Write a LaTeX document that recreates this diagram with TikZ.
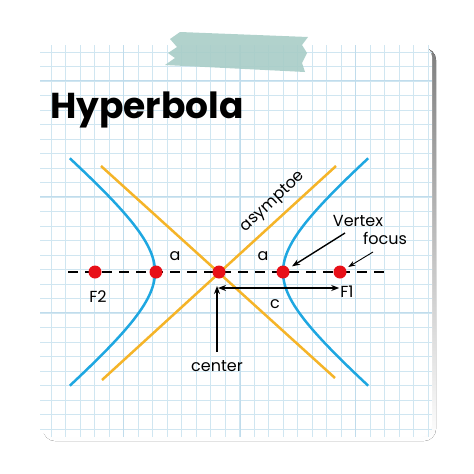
\documentclass[tikz,border=0pt]{standalone}
\usepackage{fontspec}
\setmainfont{Poppins}
\usepackage{tikz}
\usetikzlibrary{arrows.meta, positioning, calc}
\definecolor{gridblue}{RGB}{208,230,241}
\definecolor{griddark}{RGB}{192,220,236}
\definecolor{tapegreen}{RGB}{168,205,199}
\definecolor{hypblue}{RGB}{30,167,225}
\definecolor{asyorange}{RGB}{245,180,40}
\definecolor{dotred}{RGB}{232,16,24}
\definecolor{shade}{RGB}{230,231,224}
\tikzset{
    dot/.style={circle, fill=dotred, inner sep=0pt, minimum size=13pt},
    lbl/.style={font=\fontsize{16}{18}\selectfont, inner sep=1pt},
    branch/.style={hypblue, line width=2.5pt},
    asym/.style={asyorange, line width=2.5pt},
    pointer/.style={line width=1.4pt, -{Stealth[length=8pt, width=6pt]}},
    thinpointer/.style={line width=0.9pt, -{Stealth[length=7pt, width=5pt]}}
}
\begin{document}
\begin{tikzpicture}[x=1pt, y=-1pt]
    \useasboundingbox (0,0) rectangle (474,474);

    % Paper sheet
    \fill[shade, rounded corners=12pt] (43,48) rectangle (436,441);
    \fill[white, rounded corners=12pt] (40,45) rectangle (432,437);
    \foreach \x in {51,65.5,...,430} {
        \draw[gridblue, line width=0.8pt] (\x,45) -- (\x,437);
    }
    \foreach \y in {52,66.5,...,430} {
        \draw[gridblue, line width=0.8pt] (40,\y) -- (432,\y);
    }
    \foreach \x in {123,240,355} {
        \draw[griddark, line width=0.9pt] (\x,45) -- (\x,437);
    }
    \foreach \y in {80,196,312} {
        \draw[griddark, line width=0.9pt] (40,\y) -- (432,\y);
    }

    % Tape
    \fill[tapegreen, opacity=0.9] (180,32) -- (308,37) -- (302,45) -- (307,53) -- (302,63)
        -- (305,72) -- (165,65) -- (175,58) -- (168,53) -- (177,47) -- (170,39) -- cycle;

    % Title
    \node (title) [anchor=base west, inner sep=0pt, font=\fontsize{36}{40}\selectfont\bfseries] at (50,118) {Hyperbola};

    % Curves
    \draw[branch, domain=-1.49:1.49, samples=60, variable=\t] plot ({219+32*(exp(\t)+exp(-\t))}, {272+27*(exp(\t)-exp(-\t))});
    \draw[branch, domain=-1.49:1.49, samples=60, variable=\t] plot ({219-32*(exp(\t)+exp(-\t))}, {272+27*(exp(\t)-exp(-\t))});
    \draw[asym] (101,166) -- (335,378);
    \draw[asym] (102,380) -- (336,166);

    % Axis
    \draw[line width=2.5pt, dash pattern=on 10pt off 7pt] (68,272) -- (386,272);

    % Points
    \node (f2) [dot] at (95,272) {};
    \node (lv) [dot] at (156,272) {};
    \node (ctr) [dot] at (219,272) {};
    \node (rv) [dot] at (283,272) {};
    \node (f1) [dot] at (340,272) {};

    % Labels
    \node (alab1) [lbl] at (175,256) {a};
    \node (alab2) [lbl] at (263,256) {a};
    \node (f2lab) [lbl] at (98,297) {F2};
    \node (f1lab) [lbl] at (347,292) {F1};
    \node (clab) [lbl] at (275,304) {c};
    \node (centerlab) [lbl] at (217,366) {center};
    \node (asylab) [lbl, rotate=43] at (273,202) {asymptoe};
    \node (vertexlab) [lbl] at (358,221) {Vertex};
    \node (focuslab) [lbl] at (385,238) {focus};

    % Pointers
    \coordinate (cstart) at (218,288);
    \coordinate (ctip) at (217,286);
    \coordinate (vtail) at (345,233);
    \coordinate (ftail) at (373,252);
    \draw [pointer, {Stealth[length=8pt, width=6pt]}-{Stealth[length=8pt, width=6pt]}] (cstart) -- (f1lab.west |- cstart);
    \draw [pointer] ($(centerlab.north)+(0,-7)$) -- (ctip);
    \draw [pointer, shorten >=4pt] (vtail) -- (rv);
    \draw [thinpointer, shorten >=3pt] (ftail) -- (f1);

\end{tikzpicture}
\end{document}
